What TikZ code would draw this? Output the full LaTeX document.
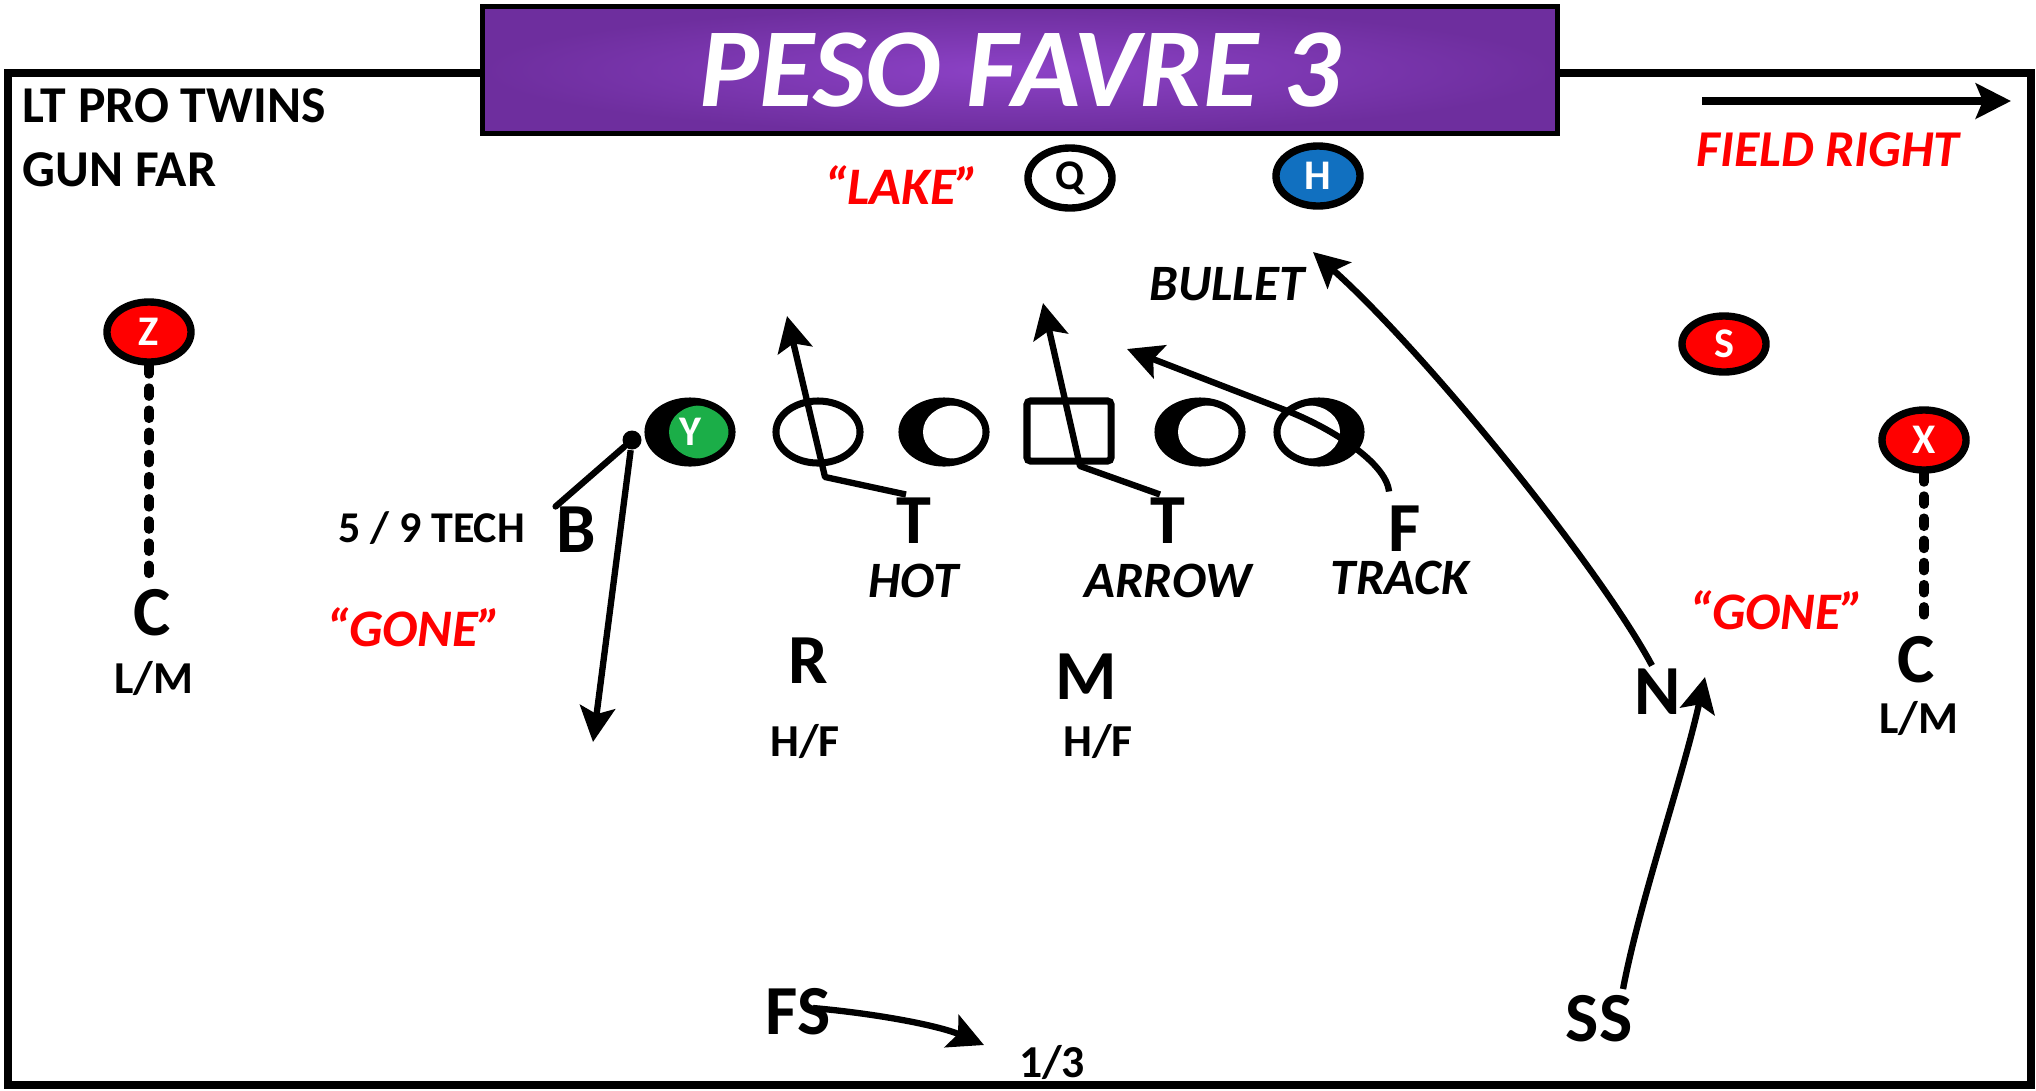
\documentclass[tikz,border=0pt]{standalone}
\usepackage{fontspec}
\setmainfont{Carlito}
\usetikzlibrary{arrows.meta, positioning, shapes.geometric}
\definecolor{CallRed}{RGB}{255,0,0}
\definecolor{YGreen}{RGB}{27,174,72}
\definecolor{HBlue}{RGB}{17,112,192}
\definecolor{TitlePurple}{RGB}{110,46,158}
\definecolor{TitleGlow}{RGB}{140,66,198}

\begin{document}
\begin{tikzpicture}[
    x=0.01cm, y=-0.01cm,
    player/.style={
        ellipse, draw=black, line width=2.1pt, fill=#1,
        minimum width=0.84cm, minimum height=0.6cm, inner sep=0pt,
        text=white, font=\bfseries\fontsize{12}{12}\selectfont
    },
    player/.default={white},
    lineman/.style={
        ellipse, draw=black, line width=2pt, fill=white,
        minimum width=0.84cm, minimum height=0.62cm, inner sep=0pt
    },
    crescent/.style 2 args={
        lineman, fill=black, text=white,
        font=\bfseries\fontsize{12}{12}\selectfont,
        path picture={
            \fill[#2] ([xshift=#1]path picture bounding box.center)
                ellipse (0.31cm and 0.265cm);
        }
    },
    snap/.style={
        rectangle, draw=black, line width=2pt, rounded corners=1pt,
        minimum width=0.84cm, minimum height=0.6cm, inner sep=0pt
    },
    big/.style={font=\bfseries\fontsize{20}{20}\selectfont, inner sep=0pt},
    note/.style={font=\bfseries\fontsize{13}{13}\selectfont, inner sep=0pt},
    tag/.style={font=\bfseries\itshape\fontsize{14.5}{14.5}\selectfont,
        inner sep=0pt},
    call/.style={font=\bfseries\itshape\fontsize{15}{15}\selectfont,
        text=CallRed, inner sep=0pt},
    route/.style={line width=1.8pt, line join=round,
        -{Stealth[length=10pt, width=10pt, inset=2pt]}},
    block/.style={line width=1.8pt, line cap=round},
    zone/.style={line width=2.6pt, dash pattern=on 2.4pt off 3.9pt,
        line cap=round}
]
\useasboundingbox (0,0) rectangle (2036,1090);

% Field
\draw[line width=2.3pt] (8,73) rectangle (2031,1085);

% Title
\node[rectangle, draw=black, line width=1.5pt, shading=radial,
      inner color=TitleGlow, outer color=TitlePurple,
      minimum width=10.75cm, minimum height=1.27cm,
      text=white, font=\bfseries\itshape\fontsize{32}{32}\selectfont]
    (title) at (1020,70) {PESO FAVRE 3};

% Formation
\node[note, anchor=west, font=\bfseries\fontsize{14.7}{14.7}\selectfont]
    (form) at (22,106) {LT PRO TWINS};
\node[note, anchor=west, font=\bfseries\fontsize{14.7}{14.7}\selectfont]
    (gun) at (22,170) {GUN FAR};

\coordinate (fr1) at (1702,101);
\coordinate (fr2) at (2011,101);
\draw[route, line width=2pt] (fr1) -- (fr2);
\node[call, font=\bfseries\itshape\fontsize{14.7}{14.7}\selectfont]
    (side) at (1828,150) {FIELD RIGHT};

% --- Offense ---
\node[player=red] (z) at (149,332) {Z};
\node[player, text=black] (q) at (1070,178) {Q};
\node[player=HBlue] (h) at (1318,176) {H};
\node[player=red, minimum height=0.56cm] (s) at (1724,344) {S};
\node[player=red] (x) at (1924,440) {X};

\node[crescent={0.1cm}{YGreen}] (y) at (690,432) {Y};
\node[lineman] (lt) at (818,432) {};
\node[crescent={0.1cm}{white}] (lg) at (944,432) {};
\node[snap] (ctr) at (1069,431) {};
\node[crescent={0.09cm}{white}] (rg) at (1200,432) {};
\node[crescent={-0.1cm}{white}] (rt) at (1319,432) {};

\node[call] (lake) at (902,185) {“LAKE”};

% --- Defense ---
\node[big] (cl) at (152,613) {C};
\node[note] (clz) at (154,678) {L/M};
\node[big] (b) at (576,530) {B};
\node[note, font=\bfseries\fontsize{12.5}{12.5}\selectfont,
      left=0.3cm of b, yshift=0.02cm] (tech) {5 / 9 TECH};
\node[call] (gonel) at (414,627) {“GONE”};

\node[big] (tl) at (914,521) {T};
\node[tag, below=0.19cm of tl] (hot) {HOT};
\node[big] (tr) at (1168,521) {T};
\node[tag, below=0.19cm of tr] (arrow) {ARROW};
\node[big] (f) at (1405,529) {F};
\node[tag] (track) at (1400,578) {TRACK};
\node[tag] (bullet) at (1227,284) {BULLET};

\node[big] (r) at (808,661) {R};
\node[note] (rz) at (805,741) {H/F};
\node[big] (m) at (1086,677) {M};
\node[note] (mz) at (1098,741) {H/F};

\node[big] (n) at (1658,692) {N};
\node[call] (goner) at (1777,610) {“GONE”};
\node[big] (cr) at (1916,660) {C};
\node[note] (crz) at (1919,718) {L/M};

\node[big] (fs) at (798,1012) {FS};
\node[note] (third) at (1052,1062) {1/3};
\node[big] (ss) at (1599,1019) {SS};

% Corner drops
\draw[zone, shorten >=3pt] (z.south) -- (z.south |- cl.north);
\draw[zone, shorten >=3pt] (x.south) -- (x.south |- cr.north);

% Routes
\node[circle, fill=black, inner sep=0pt, minimum size=0.19cm]
    (dot) at (632,440) {};
\coordinate (bEnd) at (593,742);
\draw[block] (b.north west) -- (dot);
\draw[route] (dot) -- (bEnd);

\coordinate (tlK) at (825,477);
\coordinate (tlEnd) at (787,316);
\coordinate (trK) at (1080,466);
\coordinate (trEnd) at (1043,303);
\foreach \a in {tl, tr} {
    \draw[route] ([xshift=-0.08cm, yshift=0.03cm]\a.north) -- (\a K) -- (\a End);
}

\coordinate (fK) at (1290,412);
\coordinate (fEnd) at (1127,349);
\draw[route] ([xshift=-0.16cm, yshift=0.14cm]f.north)
    .. controls (1386,462) and (1330,428) .. (fK) -- (fEnd);

\coordinate (nEnd) at (1313,252);
\draw[route] ([xshift=-0.06cm, yshift=0.03cm]n.north)
    .. controls (1598,565) and (1425,352) .. (nEnd);

\coordinate (ssEnd) at (1705,677);
\draw[route] ([xshift=0.24cm, yshift=0.06cm]ss.north)
    .. controls (1640,900) and (1682,780) .. (ssEnd);

\coordinate (fsEnd) at (984,1045);
\draw[route] ([xshift=-0.18cm, yshift=0.04cm]fs.east)
    .. controls (880,1014) and (940,1026) .. (fsEnd);

\end{tikzpicture}
\end{document}
